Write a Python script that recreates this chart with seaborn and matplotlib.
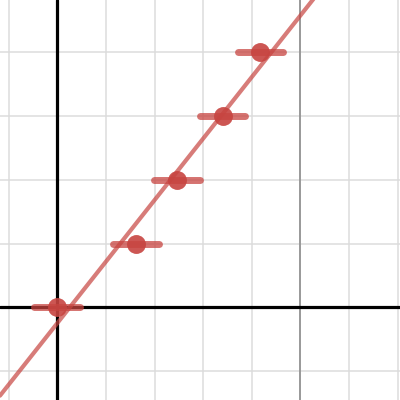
import numpy as np
import matplotlib
matplotlib.use("Agg")
import matplotlib.pyplot as plt
import seaborn as sns

# data
x_vals = [0.0, 1.62, 2.46, 3.40, 4.18]
y_vals = [0.0, 1.0, 2.0, 3.0, 4.0]
x_err = [0.47, 0.47, 0.47, 0.47, 0.47]
x_ticks = [-1, 0, 1, 2, 3, 4, 5, 6, 7]
y_ticks = [-1, 0, 1, 2, 3, 4]
x_mark = 5

red = "#c74440"

sns.set_style("white")
fig = plt.figure(figsize=(4, 4), dpi=100)
ax = fig.add_axes([0, 0, 1, 1])
ax.set_xlim(-1.179, 7.051)
ax.set_ylim(-1.453, 4.817)

# grid
ax.set_xticks(x_ticks)
ax.set_yticks(y_ticks)
ax.grid(True, color="#dcdcdc", linewidth=1.1, zorder=0)
ax.tick_params(length=0, labelbottom=False, labelleft=False)
for s in ax.spines.values():
    s.set_visible(False)

ax.axvline(x_mark, color="#999999", linewidth=1.4, zorder=1)
ax.axhline(0, color="black", linewidth=2.3, zorder=1)
ax.axvline(0, color="black", linewidth=2.3, zorder=1)

# horizontal error bars
eb = ax.errorbar(x_vals, y_vals, xerr=x_err, fmt="none", ecolor=red,
                 elinewidth=5, alpha=0.75, capsize=0, zorder=2)
for lc in eb[2]:
    lc.set_capstyle("round")

# best-fit line over the whole view
sns.regplot(x=x_vals, y=y_vals, ax=ax, ci=None, truncate=False, scatter=False,
            line_kws=dict(color=red, alpha=0.7, linewidth=3, zorder=3))

sns.scatterplot(x=x_vals, y=y_vals, ax=ax, color=red, s=185, alpha=0.9,
                linewidth=0, zorder=4)

ax.set_xlim(-1.179, 7.051)
ax.set_ylim(-1.453, 4.817)
ax.set_xlabel("")
ax.set_ylabel("")

fig.savefig("out.png", dpi=100)
